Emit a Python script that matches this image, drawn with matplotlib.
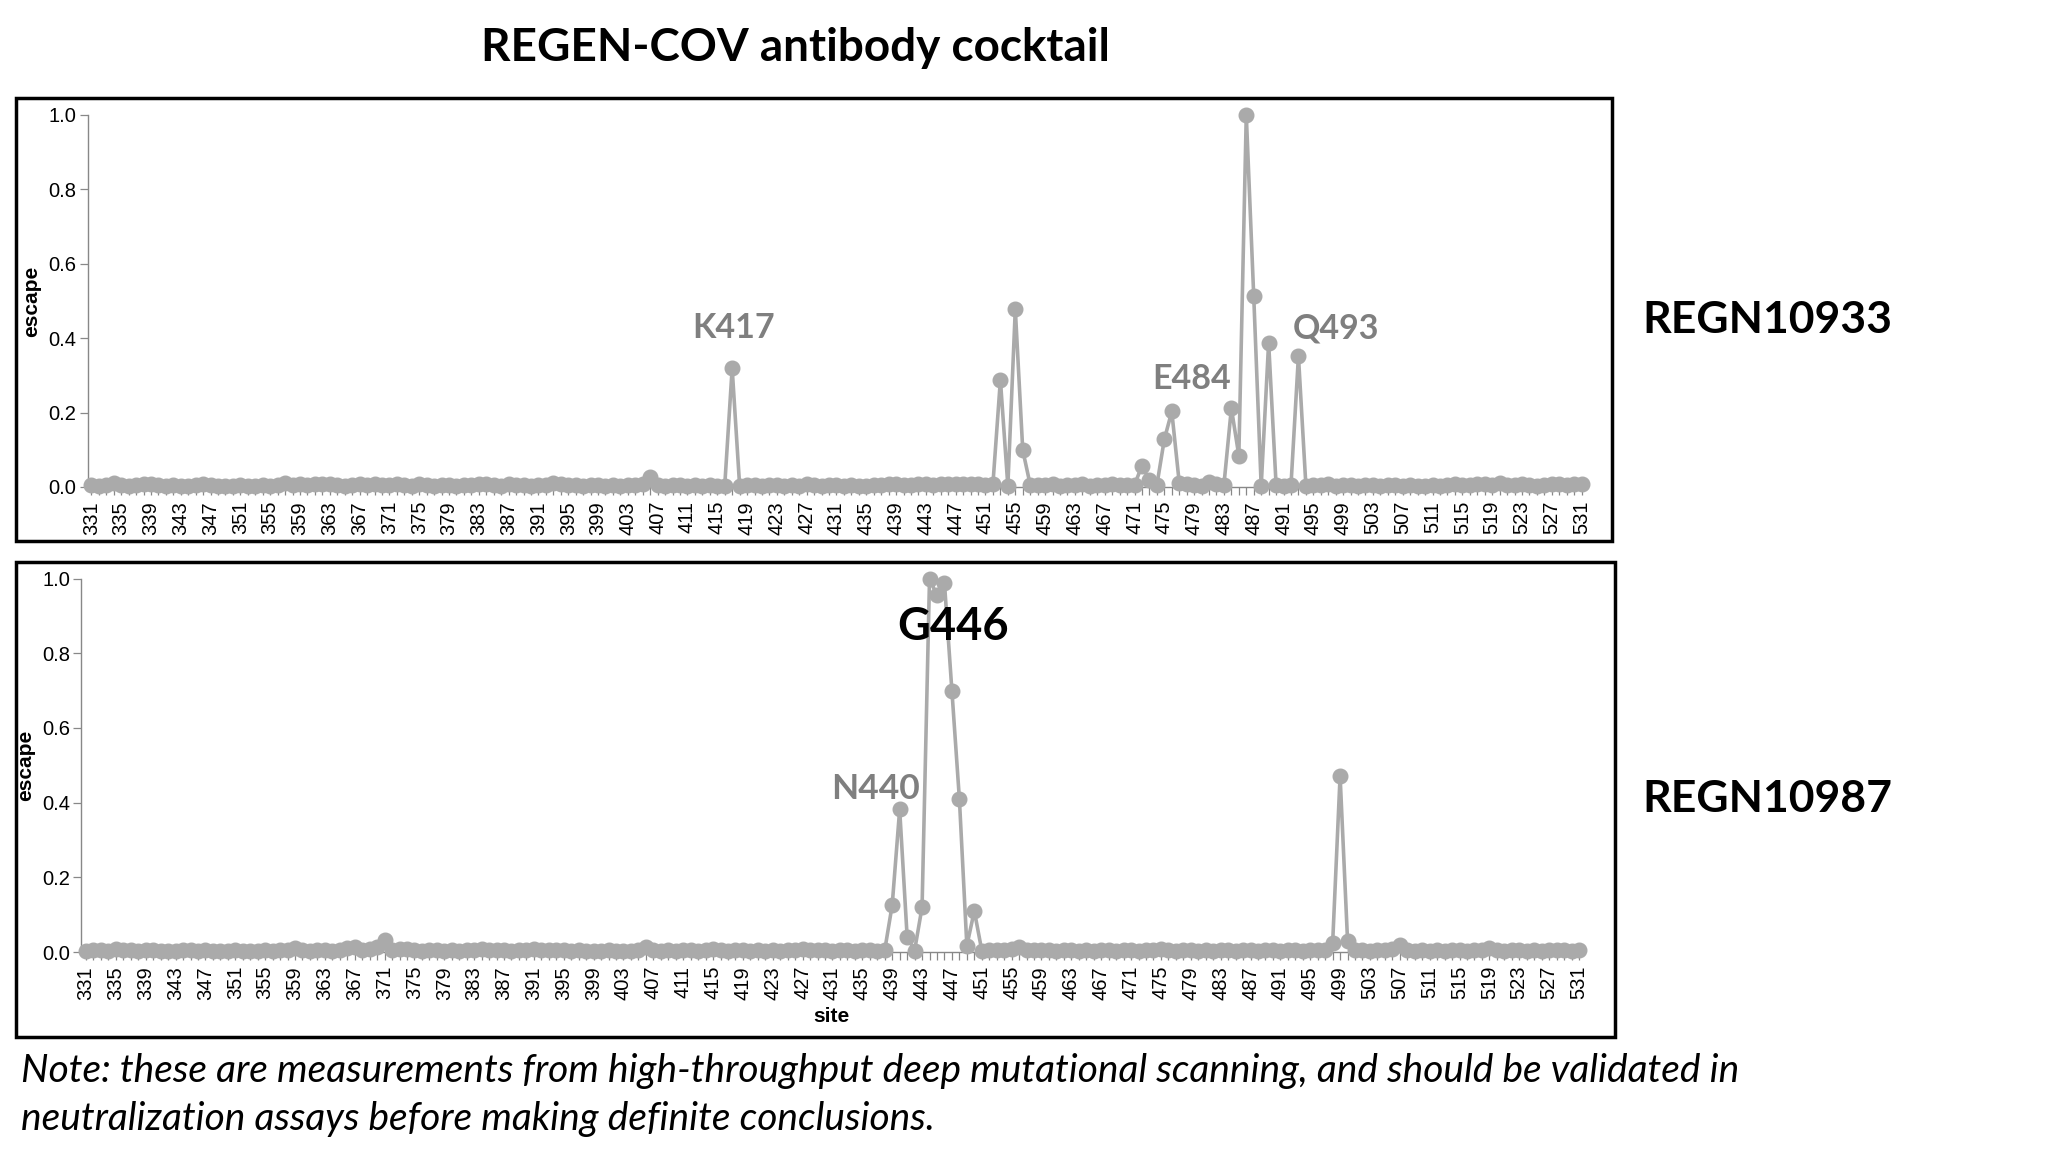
import matplotlib
matplotlib.use("Agg")
import matplotlib.pyplot as plt
from matplotlib.patches import Rectangle

W, H = 2048, 1152

sites = list(range(331, 532))

regn10933 = [
    0.005, 0.004, 0.006, 0.010, 0.006, 0.004, 0.005, 0.007, 0.008, 0.005,
    0.004, 0.005, 0.003, 0.004, 0.006, 0.009, 0.005, 0.004, 0.003, 0.004,
    0.005, 0.004, 0.003, 0.005, 0.004, 0.006, 0.010, 0.005, 0.009, 0.006,
    0.007, 0.009, 0.008, 0.005, 0.004, 0.006, 0.007, 0.005, 0.009, 0.006,
    0.005, 0.007, 0.006, 0.004, 0.008, 0.005, 0.004, 0.006, 0.005, 0.003,
    0.005, 0.006, 0.008, 0.009, 0.006, 0.004, 0.007, 0.006, 0.005, 0.004,
    0.006, 0.005, 0.012, 0.009, 0.006, 0.005, 0.004, 0.005, 0.006, 0.004,
    0.005, 0.004, 0.005, 0.006, 0.007, 0.028, 0.006, 0.004, 0.005, 0.006,
    0.004, 0.005, 0.003, 0.005, 0.004, 0.003, 0.319, 0.004, 0.005, 0.006,
    0.004, 0.005, 0.006, 0.004, 0.005, 0.003, 0.007, 0.006, 0.004, 0.005,
    0.006, 0.004, 0.005, 0.003, 0.004, 0.006, 0.005, 0.008, 0.007, 0.006,
    0.005, 0.007, 0.008, 0.006, 0.009, 0.008, 0.007, 0.009, 0.008, 0.007,
    0.006, 0.009, 0.288, 0.003, 0.478, 0.099, 0.006, 0.005, 0.006, 0.007,
    0.004, 0.006, 0.005, 0.008, 0.004, 0.006, 0.005, 0.009, 0.006, 0.005,
    0.006, 0.057, 0.018, 0.005, 0.128, 0.203, 0.012, 0.008, 0.006, 0.004,
    0.013, 0.009, 0.006, 0.212, 0.084, 1.000, 0.513, 0.002, 0.388, 0.006,
    0.004, 0.005, 0.352, 0.004, 0.006, 0.005, 0.007, 0.004, 0.005, 0.006,
    0.004, 0.005, 0.006, 0.004, 0.005, 0.006, 0.004, 0.005, 0.003, 0.004,
    0.005, 0.004, 0.006, 0.009, 0.005, 0.006, 0.008, 0.007, 0.006, 0.010,
    0.006, 0.005, 0.007, 0.006, 0.004, 0.005, 0.008, 0.007, 0.006, 0.008,
    0.007,
]

regn10987 = [
    0.004, 0.005, 0.006, 0.004, 0.007, 0.006, 0.005, 0.004, 0.006, 0.005,
    0.004, 0.003, 0.004, 0.005, 0.006, 0.004, 0.005, 0.004, 0.003, 0.004,
    0.005, 0.004, 0.003, 0.004, 0.005, 0.004, 0.005, 0.006, 0.012, 0.005,
    0.004, 0.006, 0.005, 0.004, 0.006, 0.012, 0.014, 0.006, 0.007, 0.013,
    0.032, 0.006, 0.009, 0.007, 0.005, 0.004, 0.006, 0.005, 0.004, 0.005,
    0.004, 0.005, 0.006, 0.007, 0.006, 0.005, 0.006, 0.004, 0.006, 0.005,
    0.007, 0.006, 0.005, 0.006, 0.005, 0.004, 0.005, 0.004, 0.003, 0.004,
    0.005, 0.004, 0.003, 0.004, 0.005, 0.014, 0.005, 0.004, 0.005, 0.004,
    0.006, 0.005, 0.004, 0.006, 0.007, 0.005, 0.004, 0.006, 0.005, 0.004,
    0.005, 0.004, 0.005, 0.004, 0.005, 0.006, 0.007, 0.005, 0.006, 0.005,
    0.004, 0.006, 0.005, 0.004, 0.005, 0.006, 0.004, 0.005, 0.126, 0.382,
    0.041, 0.004, 0.120, 1.000, 0.955, 0.988, 0.700, 0.410, 0.017, 0.110,
    0.004, 0.005, 0.006, 0.005, 0.008, 0.014, 0.006, 0.005, 0.006, 0.005,
    0.004, 0.006, 0.005, 0.004, 0.005, 0.004, 0.006, 0.005, 0.004, 0.006,
    0.005, 0.004, 0.006, 0.005, 0.007, 0.005, 0.004, 0.006, 0.005, 0.004,
    0.005, 0.004, 0.006, 0.005, 0.004, 0.006, 0.005, 0.004, 0.005, 0.006,
    0.004, 0.005, 0.006, 0.004, 0.005, 0.006, 0.005, 0.023, 0.471, 0.030,
    0.006, 0.005, 0.004, 0.005, 0.006, 0.007, 0.019, 0.005, 0.004, 0.005,
    0.004, 0.005, 0.004, 0.006, 0.005, 0.004, 0.005, 0.006, 0.010, 0.005,
    0.004, 0.005, 0.006, 0.004, 0.005, 0.004, 0.005, 0.006, 0.005, 0.004,
    0.005,
]

# label text, site position, height
topLabels = [("K417", 417.2, 0.427), ("E484", 478.6, 0.29), ("Q493", 498.0, 0.427)]
bottomLabels = [("N440", 436.8, 0.437)]

lineColor = "#aaaaaa"
axisColor = "#888888"
labelGray = "#7f7f7f"
tickFont = "Liberation Sans"
slideFont = "Lato"


def pxRect(left, top, right, bottom):
    return [left / W, 1 - bottom / H, (right - left) / W, (bottom - top) / H]


def drawPanel(ax, values, xmin, showSite):
    ax.plot(sites, values, color=lineColor, lw=2.6, marker="o", ms=10.5,
            mec=lineColor, mfc=lineColor, clip_on=False, zorder=3)
    ax.set_xlim(xmin, 531.5)
    ax.set_ylim(0, 1)
    for side in ["top", "right"]:
        ax.spines[side].set_visible(False)
    for side in ["left", "bottom"]:
        ax.spines[side].set_color(axisColor)
        ax.spines[side].set_linewidth(1.0)
    ax.spines["bottom"].set_bounds(sites[0], sites[-1])
    ax.set_xticks(sites)
    ax.set_xticklabels([str(s) if (s - 331) % 4 == 0 else "" for s in sites],
                       rotation=90, fontsize=14.5, family=tickFont)
    ax.set_yticks([0, 0.2, 0.4, 0.6, 0.8, 1.0])
    ax.set_yticklabels(["0.0", "0.2", "0.4", "0.6", "0.8", "1.0"],
                       fontsize=14.5, family=tickFont)
    ax.tick_params(axis="x", length=6, width=0.9, color=axisColor, pad=4)
    ax.tick_params(axis="y", length=6, width=0.9, color=axisColor, pad=2)
    ax.set_ylabel("escape", fontsize=15, fontweight="bold", family=tickFont, labelpad=5)
    if showSite:
        ax.set_xlabel("site", fontsize=15, fontweight="bold", family=tickFont, labelpad=5)
    ax.patch.set_alpha(0)


fig = plt.figure(figsize=(W / 100, H / 100), dpi=100)

# panel frames
fig.patches.append(Rectangle((16 / W, 1 - 541 / H), (1612 - 16) / W, (541 - 98) / H,
                             transform=fig.transFigure, fill=False, ec="black", lw=2.5))
fig.patches.append(Rectangle((16 / W, 1 - 1037 / H), (1615 - 16) / W, (1037 - 562) / H,
                             transform=fig.transFigure, fill=False, ec="black", lw=2.5))

ax1 = fig.add_axes(pxRect(87.5, 115, 1585.3, 487))
drawPanel(ax1, regn10933, 330.48, False)
for text, x, y in topLabels:
    ax1.text(x, y, text, color=labelGray, fontsize=24.5, fontweight="bold",
             family=slideFont, ha="center", va="center")

ax2 = fig.add_axes(pxRect(81, 578.6, 1582.7, 952))
drawPanel(ax2, regn10987, 330.33, True)
for text, x, y in bottomLabels:
    ax2.text(x, y, text, color=labelGray, fontsize=25.5, fontweight="bold",
             family=slideFont, ha="center", va="center")
ax2.text(447.1, 0.87, "G446", color="black", fontsize=32.5, fontweight="bold",
         family=slideFont, ha="center", va="center")

fig.text(795 / W, 1 - 48 / H, "REGEN-COV antibody cocktail", fontsize=33,
         fontweight="bold", family=slideFont, ha="center", va="center")
fig.text(1642 / W, 1 - 320 / H, "REGN10933", fontsize=32, fontweight="bold",
         family=slideFont, ha="left", va="center")
fig.text(1642 / W, 1 - 799 / H, "REGN10987", fontsize=32, fontweight="bold",
         family=slideFont, ha="left", va="center")

fig.text(21 / W, 1 - 1071 / H,
         "Note: these are measurements from high-throughput deep mutational scanning, and should be validated in",
         fontsize=28, style="italic", family=slideFont, ha="left", va="center")
fig.text(21 / W, 1 - 1119 / H,
         "neutralization assays before making definite conclusions.",
         fontsize=28, style="italic", family=slideFont, ha="left", va="center")

fig.savefig("out.png", dpi=100, facecolor="white")
